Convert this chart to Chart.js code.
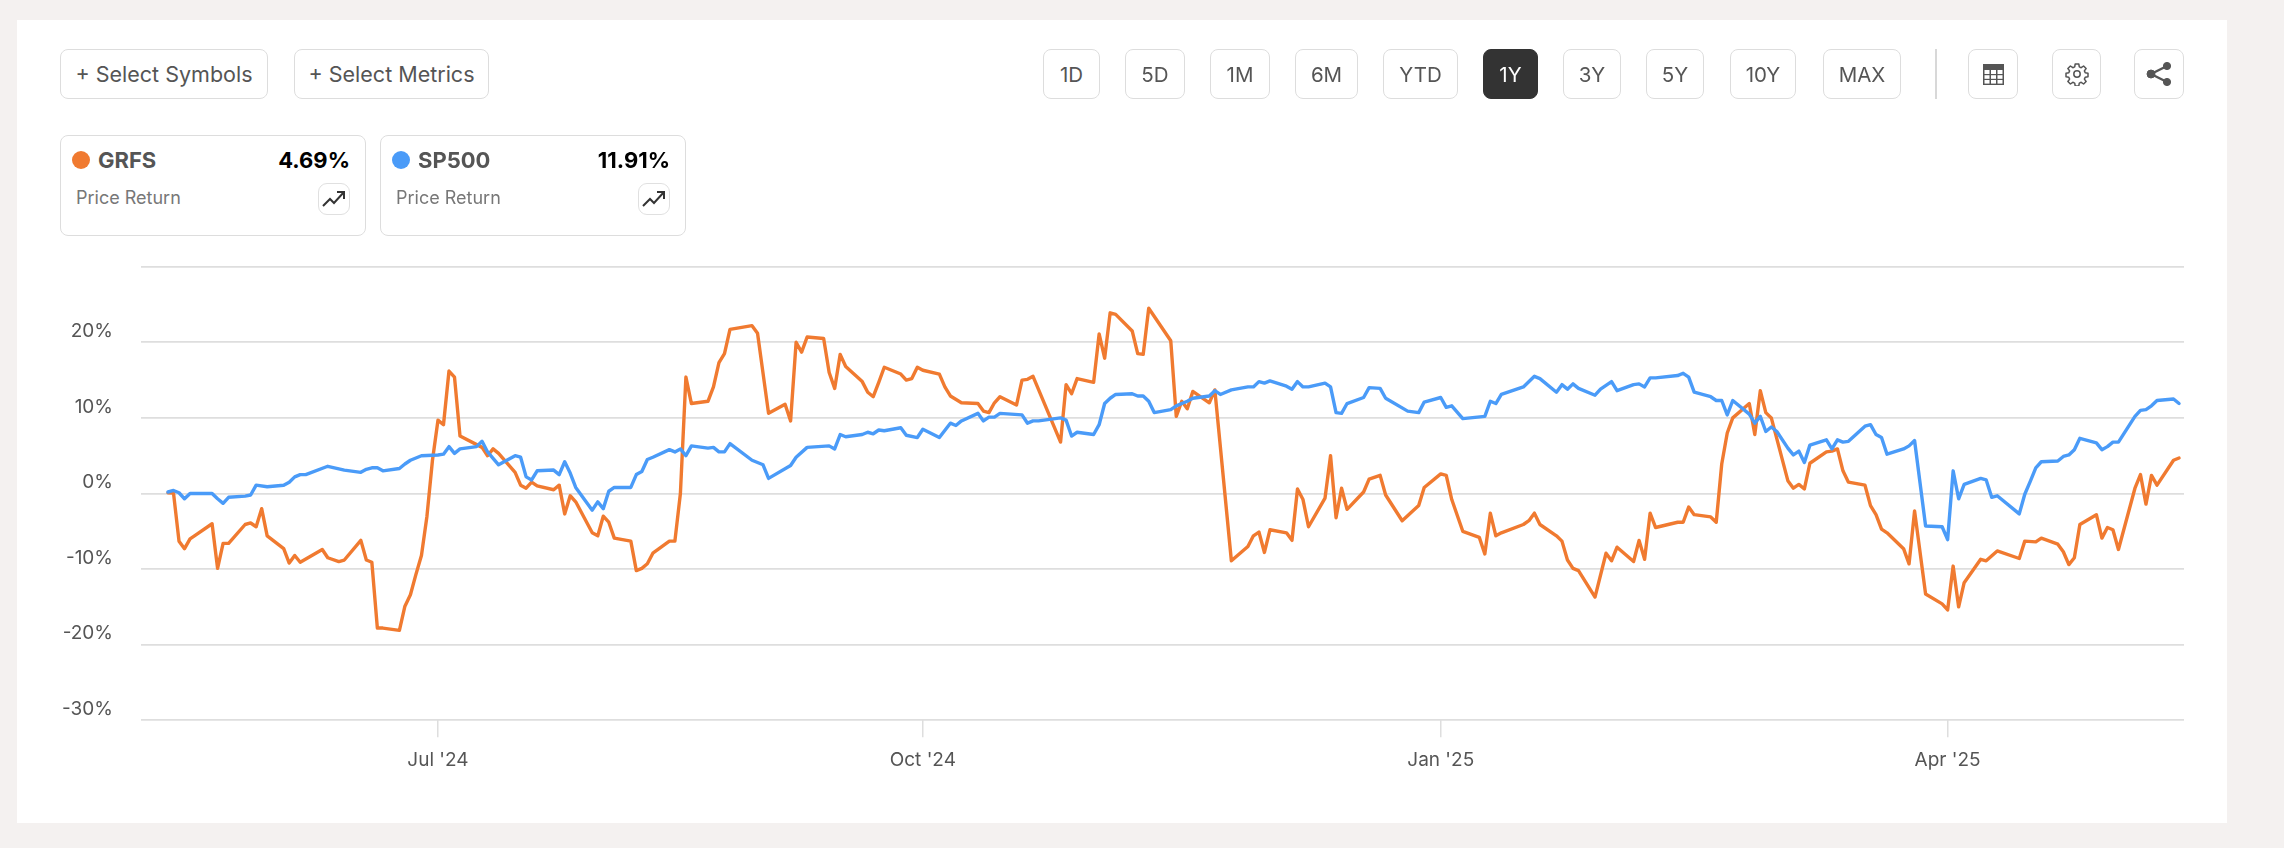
<!DOCTYPE html>
<html>
<head>
<meta charset="utf-8">
<title>GRFS vs SP500</title>
<script src="https://cdn.jsdelivr.net/npm/chart.js@4/dist/chart.umd.min.js"></script>
<style>
    html, body { margin: 0; padding: 0; width: 2284px; height: 848px; overflow: hidden; background: #f4f1f0; font-family: Inter, "Noto Sans", sans-serif; }
    #card { position: absolute; left: 17px; top: 20px; width: 2210px; height: 803px; background: #fff; }
    #chartWrap { position: absolute; left: 0; top: 0; width: 2284px; height: 848px; }
    .btn { position: absolute; top: 49px; height: 50px; box-sizing: border-box; border: 1.5px solid #dddddd; border-radius: 8px; background: #fff; color: #555; font-size: 20.5px; display: flex; align-items: center; justify-content: center; }
    .btn.wide { font-size: 21.5px; }
    .btn.active { background: #333; border-color: #333; color: #fff; }
    .sep { position: absolute; left: 1935px; top: 49px; width: 1.5px; height: 50px; background: #d8d8d8; }
    .legendBox { position: absolute; top: 135px; height: 101px; box-sizing: border-box; border: 1.5px solid #dddddd; border-radius: 8px; background: #fff; }
    .dot { position: absolute; top: 15px; left: 11px; width: 18px; height: 18px; border-radius: 50%; }
    .name { position: absolute; top: 11px; left: 37px; font-size: 22px; line-height: 26px; font-weight: 700; color: #555; }
    .pct { position: absolute; top: 11px; right: 15px; font-size: 22px; line-height: 26px; font-weight: 700; color: #000; }
    .sub { position: absolute; top: 50px; left: 15px; font-size: 18px; line-height: 24px; color: #777; }
    .trend { position: absolute; top: 47px; right: 15px; width: 32px; height: 32px; box-sizing: border-box; border: 1.5px solid #e0e0e0; border-radius: 9px; display: flex; align-items: center; justify-content: center; }
</style>
</head>
<body>
<div id="card"></div>
<div id="chartWrap"><canvas id="returnChart" width="2284" height="848"></canvas></div>

<div class="btn wide" style="left:60px;width:208px">+ Select Symbols</div>
<div class="btn wide" style="left:294px;width:195px">+ Select Metrics</div>

<div class="btn" style="left:1043px;width:57px">1D</div>
<div class="btn" style="left:1125px;width:60px">5D</div>
<div class="btn" style="left:1210px;width:60px">1M</div>
<div class="btn" style="left:1295px;width:63px">6M</div>
<div class="btn" style="left:1383px;width:75px">YTD</div>
<div class="btn active" style="left:1483px;width:55px">1Y</div>
<div class="btn" style="left:1563px;width:58px">3Y</div>
<div class="btn" style="left:1646px;width:58px">5Y</div>
<div class="btn" style="left:1730px;width:66px">10Y</div>
<div class="btn" style="left:1823px;width:78px">MAX</div>
<div class="sep"></div>

<!-- table icon -->
<div class="btn" style="left:1968px;width:50px">
    <svg width="21" height="21" viewBox="0 0 21 21"><rect x="0" y="0" width="21" height="21" fill="#555"/><rect x="1.5" y="6" width="5" height="4" fill="#fff"/><rect x="8" y="6" width="5" height="4" fill="#fff"/><rect x="14.5" y="6" width="5" height="4" fill="#fff"/><rect x="1.5" y="11.2" width="5" height="3.6" fill="#fff"/><rect x="8" y="11.2" width="5" height="3.6" fill="#fff"/><rect x="14.5" y="11.2" width="5" height="3.6" fill="#fff"/><rect x="1.5" y="16" width="5" height="3.6" fill="#fff"/><rect x="8" y="16" width="5" height="3.6" fill="#fff"/><rect x="14.5" y="16" width="5" height="3.6" fill="#fff"/></svg>
</div>
<!-- gear icon -->
<div class="btn" style="left:2052px;width:49px">
    <svg width="24" height="24" viewBox="0 0 24 24" fill="none" stroke="#555" stroke-width="1.5" stroke-linejoin="round"><circle cx="12" cy="12" r="3.2"/><path d="M10.2 2h3.6l.5 2.9 1.9.8 2.4-1.7 2.5 2.5-1.7 2.4.8 1.9 2.8.5v3.4l-2.8.5-.8 1.9 1.7 2.4-2.5 2.5-2.4-1.7-1.9.8-.5 2.8h-3.6l-.5-2.8-1.9-.8-2.4 1.7-2.5-2.5 1.7-2.4-.8-1.9-2.8-.5v-3.4l2.8-.5.8-1.9-1.7-2.4 2.5-2.5 2.4 1.7 1.9-.8z"/></svg>
</div>
<!-- share icon -->
<div class="btn" style="left:2134px;width:50px">
    <svg width="26" height="24" viewBox="0 0 26 24" fill="#555" stroke="#555"><line x1="5" y1="12" x2="21" y2="4" stroke-width="2.4"/><line x1="5" y1="12" x2="21" y2="20" stroke-width="2.4"/><circle cx="5" cy="12" r="4"/><circle cx="21" cy="4" r="3.6"/><circle cx="21" cy="20" r="3.6"/></svg>
</div>

<div class="legendBox" style="left:60px;width:306px">
    <div class="dot" style="background:#f07a30"></div>
    <div class="name">GRFS</div>
    <div class="pct">4.69%</div>
    <div class="sub">Price Return</div>
    <div class="trend"><svg width="24" height="18" viewBox="0 0 24 18" fill="none" stroke="#333" stroke-width="2"><path d="M1 16l7-7 4 4 10-11M15 2h7v7"/></svg></div>
</div>
<div class="legendBox" style="left:380px;width:306px">
    <div class="dot" style="background:#4a9bf8"></div>
    <div class="name">SP500</div>
    <div class="pct">11.91%</div>
    <div class="sub">Price Return</div>
    <div class="trend"><svg width="24" height="18" viewBox="0 0 24 18" fill="none" stroke="#333" stroke-width="2"><path d="M1 16l7-7 4 4 10-11M15 2h7v7"/></svg></div>
</div>

<script>
// x轴刻度
const tickDays = [49, 137, 231, 323];
const tickLabels = ["Jul '24", "Oct '24", "Jan '25", "Apr '25"];
const yTickHidden = 30;

// GRFS: day number since start of the range, and return in %
const grfsDays = [0,1,2,3,4,5,8,9,10,11,14,15,16,17,18,21,22,23,24,28,29,31,32,35,36,37,38,39,42,43,44,45,46,47,48,49,50,51,52,53,57,58,59,60,63,64,65,66,67,70,71,72,73,74,77,78,79,80,81,84,85,86,87,88,91,92,93,94,95,98,99,100,101,102,106,107,109,112,113,114,115,116,119,120,121,122,123,126,127,128,129,130,133,134,135,136,137,140,141,142,144,147,148,149,150,151,154,155,156,157,162,163,164,165,168,169,170,171,172,175,176,177,178,182,183,184,185,186,189,190,193,196,197,198,199,200,203,204,205,206,207,210,211,212,213,214,217,218,220,221,224,227,228,231,232,233,235,238,239,240,241,242,246,247,248,249,252,253,254,255,256,259,261,262,263,266,267,268,269,270,274,275,276,277,280,281,282,283,284,287,288,289,290,291,294,295,296,297,298,301,302,303,304,305,308,309,310,311,312,315,316,317,319,322,323,324,325,326,329,330,332,336,337,339,340,343,344,345,346,347,350,351,352,353,354,357,358,359,360,361,364,365];
const grfsValues = [0.1,0.05,-6.3,-7.3,-6.0,-5.5,-4.0,-9.9,-6.6,-6.6,-4.1,-3.9,-4.4,-2.0,-5.6,-7.3,-9.2,-8.2,-9.1,-7.4,-8.5,-9.0,-8.8,-6.2,-8.8,-9.1,-17.8,-17.8,-18.1,-14.9,-13.4,-10.7,-8.2,-3.0,4.4,9.7,9.1,16.2,15.4,7.6,6.1,5.0,5.9,5.3,2.8,1.1,0.7,1.5,1.0,0.5,1.1,-2.7,-0.3,-1.1,-5.2,-5.6,-3.0,-3.8,-5.9,-6.3,-10.2,-9.9,-9.3,-7.9,-6.3,-6.3,0.0,15.4,11.9,12.2,14.1,17.3,18.5,21.7,22.2,21.2,10.6,11.8,9.6,20.0,18.7,20.7,20.5,16.0,13.9,18.4,16.8,14.8,13.4,12.8,14.7,16.7,15.8,15.0,15.2,16.7,16.3,15.8,14.1,12.9,12.0,11.9,10.9,10.7,12.0,12.8,11.7,15.0,15.1,15.5,6.8,14.4,13.2,15.2,14.7,21.1,17.9,23.9,23.7,21.5,18.5,18.4,24.5,20.2,10.2,12.2,11.2,13.5,12.0,13.7,-8.9,-7.0,-5.6,-5.1,-7.8,-4.8,-5.2,-6.2,0.6,-0.8,-4.4,-0.6,5.0,-3.2,0.7,-2.1,0.2,1.9,2.4,-0.2,-3.6,-1.6,0.8,2.6,2.4,-0.8,-5.0,-5.8,-8.0,-2.6,-5.6,-5.2,-4.1,-3.6,-2.6,-4.1,-5.6,-6.3,-8.8,-9.9,-10.2,-13.7,-7.9,-8.9,-7.1,-9.0,-6.2,-8.7,-2.6,-4.5,-3.8,-3.8,-1.8,-2.8,-3.1,-3.8,3.9,8.0,10.0,11.9,7.8,13.6,10.7,10.0,1.7,0.7,1.2,0.6,4.0,5.5,5.6,5.9,3.0,1.5,1.1,-1.6,-2.8,-4.7,-5.2,-7.3,-9.3,-2.3,-13.3,-14.6,-15.4,-9.6,-15.0,-11.8,-8.7,-8.9,-7.6,-8.6,-6.3,-6.4,-5.9,-6.7,-7.7,-9.4,-8.5,-4.1,-2.8,-5.9,-4.5,-4.8,-7.4,0.7,2.5,-1.4,2.4,1.1,4.4,4.69];

// SP500
const sp500Days = [0,1,2,3,4,8,9,10,11,14,15,16,18,21,22,23,24,25,29,32,35,36,37,38,39,42,43,44,46,49,50,51,52,53,56,57,58,60,63,64,65,66,67,70,71,72,73,74,77,78,79,80,81,84,85,86,87,88,91,92,93,94,95,98,99,100,101,102,106,108,109,113,114,116,120,121,122,123,126,127,128,129,130,133,134,136,137,140,142,143,144,147,148,149,150,151,155,156,157,158,162,163,164,165,168,169,170,171,172,175,176,177,178,179,182,183,184,185,186,189,190,191,193,196,197,198,199,200,203,204,205,206,207,210,211,212,213,214,217,218,220,221,225,227,228,231,232,233,235,239,240,241,242,246,248,249,252,253,254,255,256,259,260,262,263,266,267,268,269,270,274,275,276,277,280,281,282,283,284,287,288,289,290,291,292,294,295,296,297,298,301,302,303,304,305,308,309,310,311,312,315,316,317,319,322,323,324,325,326,329,330,331,332,336,337,338,339,340,343,344,345,346,347,350,351,352,353,354,357,358,359,360,361,364,365];
const sp500Values = [0.2,0.4,0.1,-0.7,0,0,-0.7,-1.3,-0.5,-0.35,-0.2,1.1,0.9,1.1,1.5,2.2,2.5,2.5,3.6,3.1,2.8,3.2,3.4,3.4,3.0,3.3,3.9,4.4,5.0,5.1,5.2,6.2,5.3,5.9,6.2,6.9,5.5,3.8,5.0,4.8,2.2,1.8,3.0,3.1,2.5,4.2,2.7,0.8,-2.2,-1.1,-2.0,0.3,0.8,0.8,2.5,2.9,4.5,4.8,5.8,5.5,5.9,5.0,6.3,6.0,6.1,5.5,5.5,6.6,4.4,3.8,2.0,3.7,4.8,6.1,6.3,5.9,7.8,7.5,7.8,8.1,7.9,8.4,8.3,8.7,7.7,7.4,8.5,7.4,9.3,9.0,9.6,10.6,9.6,10.1,10.1,10.6,10.4,9.3,9.6,9.6,10.0,9.7,7.6,8.1,7.8,9.1,11.9,12.6,13.1,13.2,12.9,12.9,12.2,10.7,11.1,11.6,11.9,12.2,12.6,12.9,13.6,13.1,13.7,14.1,14.1,14.8,14.6,14.9,14.2,13.8,14.8,14.1,14.1,14.6,14.1,10.7,10.6,11.9,12.7,14.0,13.9,12.6,10.9,10.7,12.1,12.7,11.4,11.6,9.9,10.2,12.2,11.9,13.1,14.1,15.5,15.2,13.4,14.4,13.8,14.5,13.9,13.0,13.8,14.8,13.6,14.4,14.5,14.1,15.3,15.3,15.6,15.9,15.4,13.4,12.8,12.3,12.3,10.4,12.3,10.5,9.3,10.2,8.2,8.8,8.2,6.0,5.1,5.6,4.1,6.4,7.1,5.9,7.1,6.8,6.9,8.9,9.1,7.8,7.4,5.2,5.9,6.3,7.0,-4.3,-4.4,-6.1,3.0,-0.7,1.2,2.0,1.8,-0.5,-0.3,-2.7,-0.1,1.6,3.4,4.2,4.3,4.9,5.1,5.8,7.3,6.7,5.8,6.2,6.8,6.8,10.2,11.0,11.1,11.6,12.3,12.5,11.91];

const LABEL_COLOR = '#555555';
const GRID_COLOR = '#dedede';

function toPoints(days, values) {
    return days.map((d, i) => ({ x: d, y: values[i] }));
}

new Chart(document.getElementById('returnChart').getContext('2d'), {
    type: 'line',
    data: {
        datasets: [
            {
                label: 'SP500',
                data: toPoints(sp500Days, sp500Values),
                borderColor: '#4a9bf8',
                borderWidth: 3.4,
                pointRadius: 0,
                borderJoinStyle: 'round',
                borderCapStyle: 'round',
                tension: 0
            },
            {
                label: 'GRFS',
                data: toPoints(grfsDays, grfsValues),
                borderColor: '#f07a30',
                borderWidth: 3.4,
                pointRadius: 0,
                borderJoinStyle: 'round',
                borderCapStyle: 'round',
                tension: 0
            }
        ]
    },
    options: {
        responsive: false,
        animation: false,
        layout: { padding: { top: 266.7, right: 100, left: 0, bottom: 0 } },
        plugins: { legend: { display: false }, tooltip: { enabled: false } },
        scales: {
            x: {
                type: 'linear',
                min: -4.9,
                max: 365.9,
                afterFit: (scale) => { scale.height = 848 - 720.3; },
                afterBuildTicks: (scale) => { scale.ticks = tickDays.map(v => ({ value: v })); },
                border: { display: false },
                grid: { drawOnChartArea: false, drawTicks: true, tickLength: 17, color: GRID_COLOR, lineWidth: 1.5 },
                ticks: {
                    color: LABEL_COLOR,
                    font: { family: 'Inter', size: 19 },
                    padding: 12,
                    autoSkip: false,
                    maxRotation: 0,
                    callback: (value) => tickLabels[tickDays.indexOf(value)]
                }
            },
            y: {
                min: -30,
                max: 30,
                afterFit: (scale) => { scale.width = 141; },
                border: { display: false },
                grid: { drawTicks: false, color: GRID_COLOR, lineWidth: 1.8 },
                ticks: {
                    stepSize: 10,
                    color: LABEL_COLOR,
                    font: { family: 'Inter', size: 19 },
                    padding: 28,
                    labelOffset: -11,
                    callback: (value) => value === yTickHidden ? '' : value + '%'
                }
            }
        }
    }
});
</script>
</body>
</html>
